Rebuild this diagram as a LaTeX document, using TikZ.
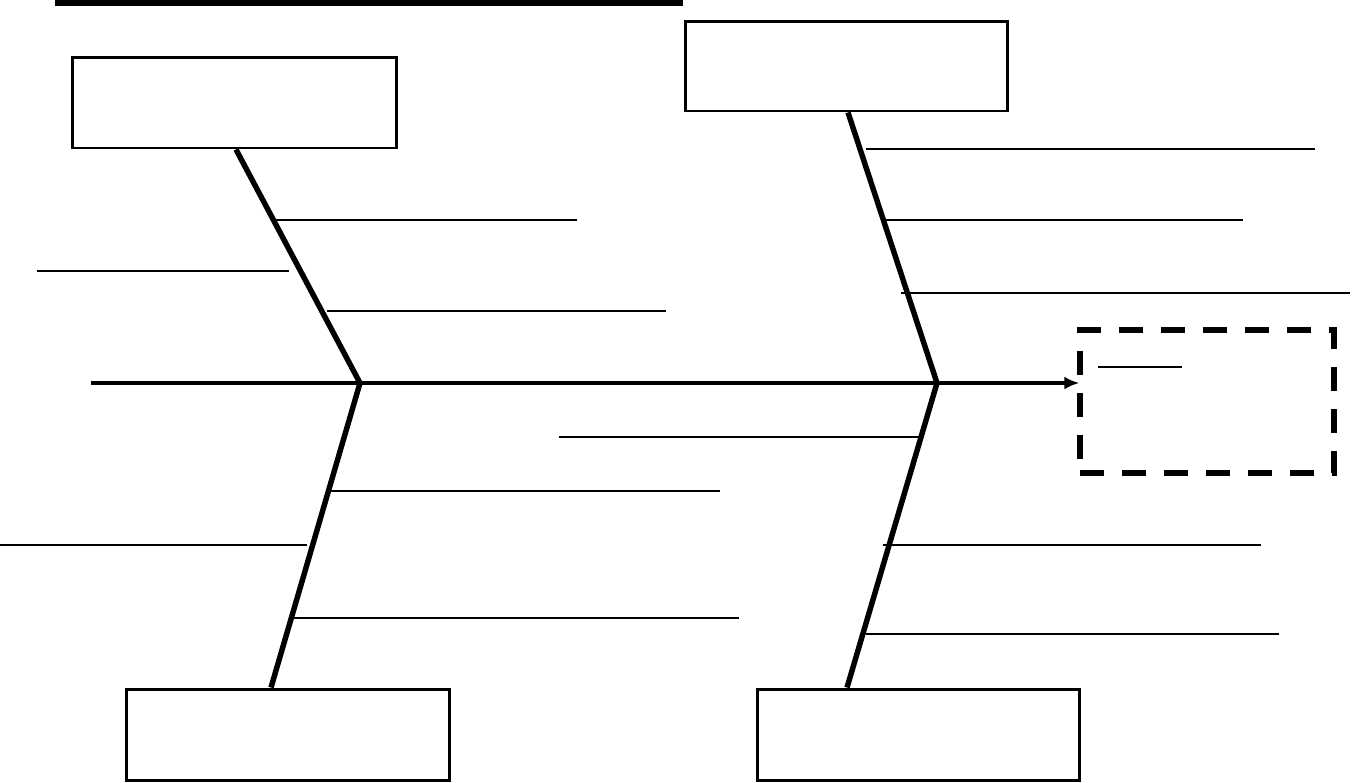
\documentclass[tikz,border=0pt]{standalone}
\usetikzlibrary{arrows.meta, positioning}
\tikzstyle{cause} = [rectangle, draw, line width=1.7pt, minimum width=6.5cm, minimum height=1.82cm, inner sep=0pt]
\tikzstyle{effect} = [rectangle, draw, dashed, dash pattern=on 0.48cm off 0.36cm, line width=3.1pt, minimum width=5.08cm, minimum height=2.86cm, inner sep=0pt]
\tikzstyle{bone} = [line width=3.1pt]
\tikzstyle{spine} = [line width=2.3pt, -{Latex[length=0.3cm,width=0.26cm]}]
\tikzstyle{twig} = [line width=1.1pt]

\begin{document}
\begin{tikzpicture}[x=0.02cm, y=-0.02cm]
  \useasboundingbox (0,0) rectangle (1352,782);
  % title rule
  \draw [line width=3.4pt] (55,3) -- (683,3);
  % category boxes
  \node (tl) [cause] at (234.5,102.5) {};
  \node (tr) [cause, minimum width=6.46cm, minimum height=1.8cm] at (846.5,66) {};
  \node (bl) [cause, minimum width=6.48cm] at (288,734.5) {};
  \node (br) [cause, minimum width=6.46cm] at (918.5,734.5) {};
  \node (res) [effect] at (1207,401.5) {};
  % spine
  \coordinate (tail) at (91,383);
  \coordinate (jl) at (360,383);
  \coordinate (jr) at (937,383);
  \draw [spine] (tail) -- ([xshift=0.04cm]tail -| res.west);
  % main bones
  \draw [bone] ([xshift=0.03cm]tl.south) -- (jl);
  \draw [bone] ([xshift=-0.34cm]bl.north) -- (jl);
  \draw [bone] ([xshift=0.03cm]tr.south) -- (jr);
  \draw [bone] ([xshift=-1.43cm]br.north) -- (jr);
  % small branches
  \foreach \xa/\xb/\yy in {272/577/220, 37/289/271, 327/666/311,
                           866/1315/149, 884/1243/220, 901/1350/293,
                           559/920/437, 326/720/491, 0/307/545, 291/739/618,
                           883/1261/545, 866/1279/634}
    \draw [twig] (\xa,\yy) -- (\xb,\yy);
  \draw [twig] (1098,367) -- (1182,367);
\end{tikzpicture}
\end{document}
